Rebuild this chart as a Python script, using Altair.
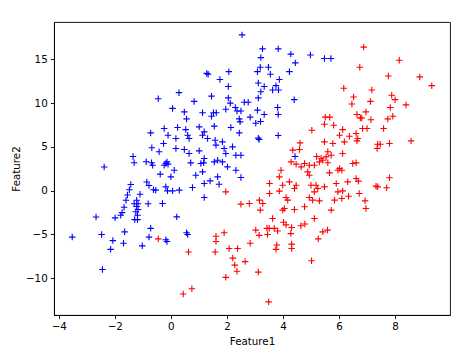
import altair as alt
import pandas as pd

blue_x = [2.54, 1.28, 1.33, 2.07, 1.75, 2.05, -0.45, 0.29, 0.83, 1.45, 2.05, 2.12, 2.62, 2.76, 0.06, 0.48, 1.13, 1.52, 1.62, 1.45, 1.96, 2.30, 2.36, 2.50, 0.56, 2.44, 2.83,
          3.27, 3.83, 4.28, 4.98, 5.48, 5.71, 3.21, 4.44, 3.19, 3.48, 3.09, 3.55, 4.23, 3.87, 3.12, 3.75, 3.33, 3.21, 3.63, 3.84, 3.12, 4.4, 3.09, 3.33, 3.81, 3.83,
          -0.72, -0.68, -1.35, -1.31, -2.38, -0.88, -0.69, -0.65, -0.86, -0.78, -0.62, -1.43, -1.48, -1.55, -1.1, -1.6, -1.22, -1.17, -1.22, -1.17, -1.25, -1.19, -1.31, -0.81, -1.67, -1.74, -1.79, -2.67, -1.99, -1.29, -1.19,
          -3.52, -2.47, -2.07, -1.65, -1.69, -2.15, -1.02, -0.78, -0.72, -2.44,
          -0.24, -0.10, 0.24, 0.18, 0.53, 0.60, 0.65, 1.01, 1.19, 1.13, 1.31, 1.55, 1.58, 1.61, 1.84, 2.14, 2.44, 2.47, -0.26, 0.18, 0.48, 0.65, 1.01, 1.19, 1.9, 1.96, 2.2, 2.32, 2.5, -0.42, -0.18, -0.24, -0.10, -0.14, 0.12, 0.71, 1.07, 1.17, 1.55, 1.67, 1.84, 2.02, 2.32, -0.38, 0.0, 0.89, 1.13, 1.19, 1.40, 1.67, 1.72, 2.5, -0.54, -0.18, -0.12, 0.06, 0.30, 0.77, 1.19, -0.30, 0.21,
          0.56, 0.6, -0.18, -0.14,
          3.03, 3.2, 3.12, 3.15, 3.83, 4.43]
blue_y = [17.8, 13.4, 13.3, 13.6, 12.7, 11.9, 10.5, 11.2, 10.2, 10.8, 10.6, 10.0, 10.1, 10.1, 9.4, 9.0, 8.9, 8.9, 8.9, 8.5, 9.3, 9.5, 9.1, 9.1, 8.2, 8.2, 8.4,
          16.2, 16.2, 15.6, 15.5, 15.1, 15.1, 15.2, 14.6, 14.1, 14.1, 13.6, 13.3, 13.6, 12.7, 12.3, 12.0, 11.9, 11.3, 11.5, 11.5, 10.6, 10.4, 9.2, 8.7, 9.5, 8.7,
          6.6, 4.9, 3.9, 3.2, 2.7, 3.3, 3.2, 2.9, 1.0, 0.6, 0.1, 0.7, 0.1, -0.5, -0.4, -1.1, -1.1, -1.5, -1.8, -2.15, -2.4, -2.8, -1.5, -1.5, -1.9, -2.5, -2.8, -3.0, -3.1, -3.3, -3.3,
          -5.3, -5.0, -5.7, -4.7, -6.0, -6.7, -6.3, -5.3, -4.3, -9.0,
          7.1, 6.34, 7.21, 5.96, 6.98, 6.34, 5.96, 7.29, 6.72, 6.34, 5.96, 7.37, 5.77, 5.2, 5.58, 7.21, 6.6, 7.86, 5.39, 4.82, 4.70, 4.24, 4.55, 3.67, 4.82, 4.24, 5.01, 4.05, 4.05, 4.44, 3.1, 2.91, 3.03, 3.29, 2.34, 3.18, 3.1, 3.18, 3.29, 3.48, 3.29, 2.72, 2.34, 1.89, 1.58, 1.77, 2.15, 0.82, 1.12, 1.58, 0.74, 1.5, 0.06, 0.44, -0.02, -0.02, 0.06, 0.36, -0.78, -1.46, -2.99,
          -4.8, -5.0, -5.6, -5.8,
          7.7, 7.9, 6.0, 5.85, 6.3, 3.9]

red_x = [6.17, 6.52, 6.46, 5.51, 5.67,
         6.88, 8.15, 6.74, 7.76, 8.88, 9.31, 7.17, 7.12, 7.88, 8.0, 8.39, 7.83, 6.96, 6.64, 6.76, 6.81, 7.92, 7.74, 7.14,
         1.96, 2.5, 2.8,
         -0.45, 0.63, 0.44, 0.75, 1.61, 1.61, 1.90, 1.58, 2.08, 2.38, 2.21, 2.28, 2.36, 2.65, 1.96, 2.83,
         3.03, 3.15, 3.43, 3.51, 3.45, 3.69, 3.81, 4.02, 4.11, 4.31, 4.28, 4.64, 4.78, 5.42, 5.59, 5.26, 3.78, 3.75, 4.31, 4.31, 5.02, 3.12, 3.49,
         5.48, 5.81, 6.13, 5.03, 6.02, 6.37, 4.61, 5.48, 5.78, 6.19, 4.35, 4.59, 5.6, 5.72, 5.54, 5.42, 5.3, 6.13, 5.12, 4.94, 4.77, 4.65, 4.47, 4.29, 6.49, 6.02, 5.96, 6.1, 5.66, 6.31,
         3.93, 3.87, 3.52, 4.23, 3.99, 4.41, 4.47, 4.88, 4.94, 5.0, 5.18, 5.24, 5.12, 5.48, 5.9, 5.96, 6.13, 5.84, 6.1, 6.34, 3.52, 3.87, 4.11, 4.17, 3.16, 3.28, 3.19, 4.05, 3.99, 4.41, 4.77, 5.06, 5.3, 4.94, 5.72, 3.63, 5.12,
         5.36, 5.6, 5.2,
         6.84, 7.0, 7.59, 6.61, 6.67, 6.64, 7.38, 7.47, 7.36, 7.8, 8.57, 6.61, 6.61, 6.69, 7.32, 7.38, 7.7, 7.8, 6.72, 6.93, 6.96]
red_y = [11.7, 10.7, 9.9, 8.4, 8.4,
         16.4, 14.9, 14.1, 13.1, 13.0, 12.0, 11.5, 10.2, 10.9, 10.4, 9.8, 9.5, 9.0, 8.7, 8.3, 8.3, 8.5, 8.2, 8.1,
         -0.13, -1.54, -1.46,
         -5.5, -7.0, -11.8, -11.2, -5.2, -5.8, -4.8, -7.0, -6.6, -6.6, -7.7, -8.5, -9.2, -8.1, -9.9, -6.0,
         -4.5, -5.1, -4.3, -4.3, -5.0, -4.3, -4.6, -3.6, -3.9, -4.2, -4.9, -4.0, -3.8, -4.7, -4.5, -5.5, -6.2, -6.7, -6.1, -6.6, -8.0, -9.3, -12.7,
         7.59, 7.48, 6.98, 6.91, 6.34, 6.22, 5.46, 5.58, 5.39, 5.58, 4.63, 4.70, 4.44, 4.05, 3.86, 3.48, 3.29, 4.24, 2.91, 2.91, 3.1, 2.72, 3.03, 3.29, 3.1, 2.53, 2.34, 2.34, 2.04, 1.01,
         2.34, 1.58, 0.82, 1.01, 0.63, 0.25, 0.63, 2.15, 1.77, 0.63, 0.63, 0.25, -0.13, 0.44, 0.82, -0.13, -0.02, -1.08, -0.89, -0.63, -0.32, -0.05, -0.78, -1.08, -1.08, -1.46, -2.22, -2.03, -2.22, -2.15, -1.84, -1.08, -1.16, -0.78, -2.22, -3.18, -3.18,
         3.7, 3.2, 3.9,
         7.1, 7.1, 7.1, 6.53, 5.96, 5.69, 5.31, 5.31, 4.82, 5.39, 5.69, 3.18, 1.39, 1.09, 0.52, 0.44, 0.33, 1.47, -0.32, -1.16, -2.03]

x_ticks = [-4, -2, 0, 2, 4, 6, 8]
y_ticks = [-10, -5, 0, 5, 10, 15]

df = pd.concat([
    pd.DataFrame({"Feature1": blue_x, "Feature2": blue_y, "cls": "blue"}),
    pd.DataFrame({"Feature1": red_x, "Feature2": red_y, "cls": "red"}),
], ignore_index=True)
df["order"] = range(len(df))

FONT = "DejaVu Sans"

chart = alt.Chart(df).mark_point(
    shape="M-1,0L1,0M0,-1L0,1",
    filled=False,
    size=42,
    strokeWidth=1.1,
    opacity=1,
).encode(
    x=alt.X("Feature1:Q",
            scale=alt.Scale(domain=[-4.17, 9.96], nice=False, zero=False),
            axis=alt.Axis(values=x_ticks, format="d", title="Feature1")),
    y=alt.Y("Feature2:Q",
            scale=alt.Scale(domain=[-14.2, 19.27], nice=False, zero=False),
            axis=alt.Axis(values=y_ticks, format="d", title="Feature2")),
    color=alt.Color("cls:N", scale=alt.Scale(domain=["blue", "red"], range=["#0000ff", "#ff0000"]), legend=None),
    order=alt.Order("order:Q"),
).properties(
    width=396,
    height=293,
    autosize=alt.AutoSizeParams(type="none"),
    padding={"left": 54, "top": 22, "right": 24, "bottom": 38},
    background="white",
).configure_view(
    stroke="black",
    strokeWidth=0.9,
).configure_axis(
    grid=False,
    domainColor="black",
    domainWidth=0.9,
    tickColor="black",
    tickWidth=0.9,
    tickSize=3.6,
    labelPadding=3.2,
    labelFont=FONT,
    labelFontSize=10.3,
    labelColor="black",
    titleFont=FONT,
    titleFontSize=10.3,
    titleFontWeight="normal",
    titleColor="black",
    titlePadding=4,
)

chart.save("out.html", embed_options={"renderer": "svg", "actions": False})
